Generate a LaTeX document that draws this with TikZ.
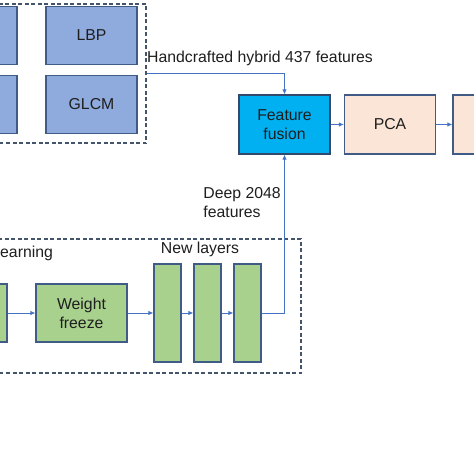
\documentclass[tikz,border=0pt]{standalone}
\usepackage{fontspec}
\setmainfont{Liberation Sans}
\usetikzlibrary{positioning,arrows.meta}
\definecolor{boxline}{HTML}{3F5B86}
\definecolor{bluefill}{HTML}{8FAADC}
\definecolor{fusefill}{HTML}{00B0F0}
\definecolor{peachfill}{HTML}{FBE5D6}
\definecolor{greenfill}{HTML}{A9D18E}
\definecolor{linkblue}{HTML}{4472C4}
\definecolor{groupline}{HTML}{44546A}
\definecolor{txt}{HTML}{1E1E1E}
\tikzset{
  box/.style={draw=boxline, line width=1.1pt, minimum width=91pt, minimum height=58pt,
    align=center, inner sep=0pt, text=txt, font=\fontsize{15.8}{19}\selectfont},
  blubox/.style={box, fill=bluefill},
  fusebox/.style={box, fill=fusefill, draw=boxline!80!black},
  peachbox/.style={box, fill=peachfill},
  greenbox/.style={box, fill=greenfill},
  layerbox/.style={greenbox, minimum width=27pt, minimum height=98pt},
  group/.style={draw=groupline, line width=1.1pt, dash pattern=on 4pt off 2.5pt},
  link/.style={draw=linkblue, line width=1pt, -{Latex[length=5pt,width=4.5pt]}},
  lbl/.style={inner sep=0pt, text=txt, font=\fontsize{15.8}{19}\selectfont}
}

\begin{document}
\begin{tikzpicture}[x=1pt,y=-1pt]
\useasboundingbox (0,0) rectangle (474,474);
\clip (0,0) rectangle (474,474);
% handcrafted features
\node[group, minimum width=166pt, minimum height=139pt] (hcgroup) at (63,73.5) {};
\node[blubox] (hcA) at (-28.5,35.5) {};
\node[blubox] (lbp) at (91.5,35.5) {LBP};
\node[blubox] (hcB) at (-28.5,104.5) {};
\node[blubox] (glcm) at (91.5,104.5) {GLCM};
\node[lbl, anchor=base west] (hclbl) at (147,62.5) {Handcrafted hybrid 437 features};
% fusion and reduction
\node[fusebox, minimum height=59pt] (fusion) at (284.5,124.5) {Feature\\fusion};
\node[peachbox, minimum height=59pt] (pca) at (390,124.5) {PCA};
\node[peachbox, minimum height=59pt] (next) at (498.5,124.5) {};
% transfer learning
\node[group, minimum width=321pt, minimum height=134pt] (tlgroup) at (140.5,306) {};
\node[lbl, anchor=west] (tllbl) at (0,253) {earning};
\node[greenbox] (tlA) at (-38.5,313) {};
\node[greenbox] (freeze) at (81.5,313) {Weight\\freeze};
\node[layerbox] (nl1) at (167.5,313) {};
\node[layerbox] (nl2) at (207.5,313) {};
\node[layerbox] (nl3) at (247.5,313) {};
\node[lbl] (nllbl) at (200,249) {New layers};
\node[lbl, anchor=east, align=left] (deeplbl) at (281,202.5) {Deep 2048\\features};
% connectors
\draw[link] (hcgroup.east) -| (fusion.north);
\draw[link] (nl3.east) -| (fusion.south);
\draw[link] (fusion) -- (pca);
\draw[link] (pca) -- (next);
\draw[link] (tlA) -- (freeze);
\draw[link] (freeze) -- (nl1);
\draw[link] (nl1) -- (nl2);
\draw[link] (nl2) -- (nl3);
\end{tikzpicture}
\end{document}
